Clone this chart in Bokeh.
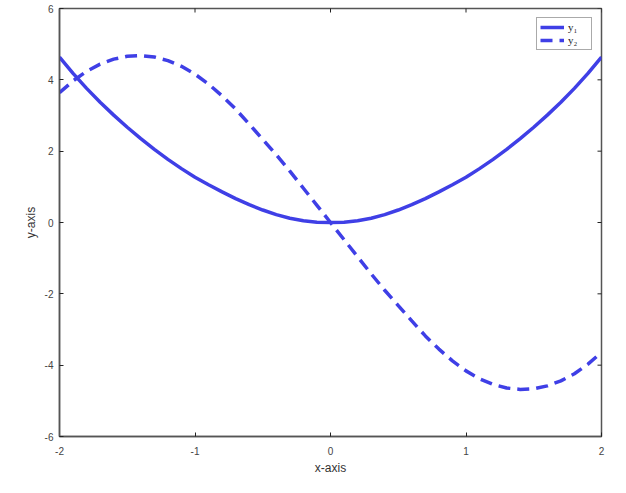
import math
from bokeh.plotting import figure
from bokeh.models import Range1d, FixedTicker, Legend, LegendItem
from bokeh.embed import file_html
from bokeh.resources import INLINE

# ---- data ----
x_vals = [-2.0, -1.9, -1.8, -1.7, -1.6, -1.5, -1.4, -1.3, -1.2, -1.1, -1.0,
          -0.9, -0.8, -0.7, -0.6, -0.5, -0.4, -0.3, -0.2, -0.1, 0.0,
          0.1, 0.2, 0.3, 0.4, 0.5, 0.6, 0.7, 0.8, 0.9, 1.0,
          1.1, 1.2, 1.3, 1.4, 1.5, 1.6, 1.7, 1.8, 1.9, 2.0]
y1_vals = [4.64, 4.18, 3.76, 3.37, 3.01, 2.67, 2.35, 2.05, 1.77, 1.51, 1.27,
           1.06, 0.86, 0.67, 0.50, 0.35, 0.22, 0.12, 0.05, 0.01, 0.00,
           0.01, 0.05, 0.12, 0.22, 0.35, 0.50, 0.67, 0.86, 1.06, 1.27,
           1.51, 1.77, 2.05, 2.35, 2.67, 3.01, 3.37, 3.76, 4.18, 4.64]
y2_vals = [3.64, 3.97, 4.24, 4.44, 4.58, 4.66, 4.68, 4.64, 4.54, 4.38, 4.16,
           3.88, 3.55, 3.18, 2.76, 2.33, 1.90, 1.44, 0.96, 0.48, 0.00,
           -0.48, -0.96, -1.44, -1.90, -2.33, -2.76, -3.18, -3.55, -3.88, -4.16,
           -4.38, -4.54, -4.64, -4.68, -4.66, -4.58, -4.44, -4.24, -3.97, -3.64]
x_ticks = [-2, -1, 0, 1, 2]
y_ticks = [-6, -4, -2, 0, 2, 4, 6]
series_labels = ["y\u2081", "y\u2082"]
x_label = "x-axis"
y_label = "y-axis"

LINE_COLOR = "#3f3fe6"
AXIS_COLOR = "#555555"
TICK_COLOR = "#222222"
TEXT_COLOR = "#444444"
FONT = "Liberation Sans"

X_MIN, X_MAX = x_ticks[0], x_ticks[-1]
Y_MIN, Y_MAX = y_ticks[0], y_ticks[-1]

p = figure(width=618, height=480, output_backend="svg", toolbar_location=None,
           x_range=Range1d(X_MIN, X_MAX), y_range=Range1d(Y_MIN, Y_MAX),
           min_border_left=59, min_border_right=17, min_border_top=8,
           min_border_bottom=44)
p.xgrid.visible = False
p.ygrid.visible = False
p.outline_line_color = AXIS_COLOR
p.outline_line_width = 1.5
p.background_fill_color = "white"
p.border_fill_color = "white"

r1 = p.line(x_vals, y1_vals, line_color=LINE_COLOR, line_width=3.5)
r2 = p.line(x_vals, y2_vals, line_color=LINE_COLOR, line_width=3.5,
            line_dash="12 7")

# inward ticks on the top and right edges (half of each dash is clipped by the frame)
p.scatter(x=x_ticks, y=[Y_MAX] * len(x_ticks), marker="dash", angle=math.pi / 2,
          size=8, line_color=TICK_COLOR, line_width=1)
p.scatter(x=[X_MAX] * len(y_ticks), y=y_ticks, marker="dash",
          size=8, line_color=TICK_COLOR, line_width=1)

xa = p.xaxis[0]
ya = p.yaxis[0]
for ax, ticks in ((xa, x_ticks), (ya, y_ticks)):
    ax.ticker = FixedTicker(ticks=ticks)
    ax.major_label_overrides = {t: str(t) for t in ticks}
    ax.axis_line_color = AXIS_COLOR
    ax.axis_line_width = 1.5
    ax.major_tick_in = 4
    ax.major_tick_out = 0
    ax.major_tick_line_color = TICK_COLOR
    ax.major_tick_line_width = 1
    ax.minor_tick_line_color = None
    ax.major_label_text_font = FONT
    ax.major_label_text_color = TEXT_COLOR
    ax.major_label_text_font_size = "10px"
    ax.axis_label_text_font = FONT
    ax.axis_label_text_font_size = "12px"
    ax.axis_label_text_font_style = "normal"
    ax.axis_label_text_color = "#333333"
xa.major_label_standoff = 10
ya.major_label_standoff = 6
xa.axis_label_standoff = 3
ya.axis_label_standoff = 4
xa.axis_label = x_label
ya.axis_label = y_label

legend = Legend(items=[LegendItem(label=series_labels[0], renderers=[r1]),
                       LegendItem(label=series_labels[1], renderers=[r2])],
                location="top_right")
legend.border_line_color = "#555555"
legend.border_line_width = 1.2
legend.background_fill_color = "white"
legend.background_fill_alpha = 1
legend.label_text_font = "Liberation Serif"
legend.label_text_font_size = "11px"
legend.label_text_color = "#222222"
legend.glyph_width = 24
legend.glyph_height = 10
legend.label_height = 10
legend.label_standoff = 4
legend.padding = 3
legend.spacing = 1
legend.margin = 9
p.add_layout(legend)

open("out.html", "w").write(file_html(p, INLINE))
